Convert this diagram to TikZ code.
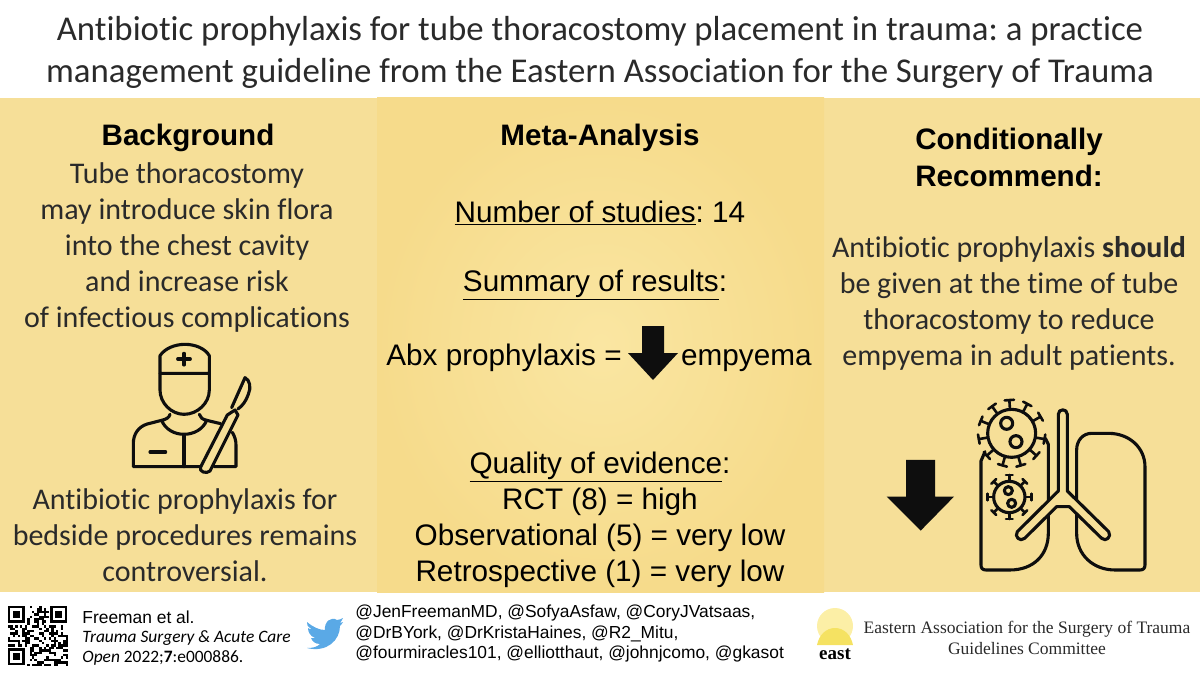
\documentclass[tikz,border=0pt]{standalone}
\usepackage{fontspec}
\setmainfont[Ligatures=NoCommon]{Carlito}
\setsansfont{Liberation Sans}
\newfontfamily\timesfont{Liberation Serif}
\usepackage{xcolor}
\usepackage{tikz}
\usetikzlibrary{positioning, arrows.meta}
\definecolor{panelyellow}{HTML}{F6DF98}
\definecolor{centeredge}{HTML}{F6DB8B}
\definecolor{centermid}{HTML}{FAE6A2}
\definecolor{inkblack}{HTML}{0E0E0E}
\definecolor{titlegray}{HTML}{2A2A2A}
\definecolor{birdblue}{HTML}{5AA9E6}
\definecolor{sunpale}{HTML}{FCEFA6}
\definecolor{sundark}{HTML}{F5E262}
\frenchspacing

\begin{document}
\begin{tikzpicture}[x=1pt, y=-1pt, thick,
    titletext/.style={inner sep=0pt, align=center, text=titlegray, font=\fontsize{34.8}{42}\selectfont},
    headtext/.style={inner sep=0pt, align=center, font=\sffamily\bfseries\fontsize{29.6}{37}\selectfont},
    bodytext/.style={inner sep=0pt, align=center, text=titlegray, font=\fontsize{30}{36}\selectfont},
    metatext/.style={inner sep=0pt, align=center, font=\sffamily\fontsize{29.7}{35.8}\selectfont},
    foottext/.style={inner sep=0pt, align=left, font=\sffamily\fontsize{17.4}{20.6}\selectfont},
    iconline/.style={draw=inkblack, line width=3.1pt, line cap=round, line join=round},
    downarrow/.style={fill=inkblack, draw=none},
    spike/.style={draw=inkblack, line width=2.6pt, line cap=round}]
    \useasboundingbox (0,0) rectangle (1200,674);

    % panels
    \fill[panelyellow] (0,98) rectangle (1200,592);
    \shade[inner color=centermid, outer color=centeredge] (377,98) rectangle (824,592);

    % title
    \node[titletext] (title) at (600,52) {Antibiotic prophylaxis for tube thoracostomy placement in trauma: a practice\\management guideline from the Eastern Association for the Surgery of Trauma};

    % left panel
    \node[headtext] (background) at (188,138) {Background};
    \node[bodytext] (flora) at (187,248) {Tube thoracostomy\\may introduce skin flora\\into the chest cavity\\and increase risk\\of infectious complications};
    \node[bodytext] (controversial) at (185,535) {Antibiotic prophylaxis for\\bedside procedures remains\\controversial.};

    % surgeon
    \begin{scope}[shift={(110,335)}, x=0.3333pt, y=-0.3333pt]
        \draw[iconline] (150,115) -- (150,62) .. controls (165,40) and (195,28) .. (225,28) .. controls (255,28) and (285,40) .. (298,62) -- (298,115) -- cycle;
        \draw[iconline] (203,72) -- (241,72) (222,55) -- (222,90);
        \draw[iconline] (150,115) -- (150,165) .. controls (150,205) and (185,238) .. (222,238) .. controls (262,238) and (298,205) .. (298,165) -- (298,115);
        \draw[iconline] (180,238) .. controls (178,248) and (168,253) .. (155,256) .. controls (165,282) and (192,298) .. (222,298) .. controls (252,298) and (280,282) .. (290,256) .. controls (278,253) and (270,248) .. (268,238);
        \draw[iconline] (155,256) -- (112,267) .. controls (85,275) and (70,298) .. (70,325) -- (70,395) -- (272,395);
        \draw[iconline] (222,298) -- (222,395) (120,351) -- (167,351);
        \draw[iconline] (290,256) -- (332,266) (367,292) .. controls (375,305) and (378,318) .. (378,330) -- (378,395) -- (312,395);
        \draw[iconline] (272,396) -- (352,240) -- (375,225) -- (384,240) -- (300,408) .. controls (290,418) and (265,410) .. (272,396);
        \draw[iconline] (365,218) -- (405,128) .. controls (420,135) and (424,158) .. (415,178) .. controls (408,198) and (398,212) .. (384,222);
    \end{scope}

    % centre panel
    \node[headtext] (meta) at (600,138) {Meta-Analysis};
    \node[metatext] (studies) at (600,213) {\underline{Number of studies}: 14};
    \node[metatext] (summary) at (595,285) {\underline{Summary of results}:};
    \node[metatext, anchor=base west] (abx) at (386,365) {Abx prophylaxis =};
    \node[metatext, anchor=base east] (empyema) at (812,365) {empyema};
    \fill[downarrow] (642,326) -- (664,326) -- (664,353) -- (678,353) -- (653,380) -- (628,353) -- (642,353) -- cycle;
    \node[metatext] (quality) at (600,520) {\underline{Quality of evidence}:\\RCT (8) = high\\Observational (5) = very low\\Retrospective (1) = very low};

    % right panel
    \node[headtext] (recommend) at (1009,157) {Conditionally\\Recommend:};
    \node[bodytext] (should) at (1009,303) {Antibiotic prophylaxis \textbf{should}\\be given at the time of tube\\thoracostomy to reduce\\empyema in adult patients.};

    % arrow and lungs
    \begin{scope}[shift={(870,385)}, x=0.3333pt, y=-0.3333pt]
        \fill[downarrow] (108,225) -- (195,225) -- (195,335) -- (252,335) -- (152,437) -- (50,335) -- (108,335) -- cycle;
        \draw[iconline] (345,200) -- (333,228) -- (333,540) .. controls (333,550) and (338,555) .. (348,555) -- (420,555) .. controls (490,555) and (535,510) .. (535,445) -- (535,178) -- (526,160);
        \draw[iconline] (620,395) -- (620,195) .. controls (620,165) and (640,145) .. (665,145) -- (715,145) .. controls (780,145) and (825,190) .. (825,245) -- (825,540) .. controls (825,550) and (820,555) .. (810,555) -- (735,555) .. controls (670,555) and (620,510) .. (620,445) -- (620,395);
        \draw[iconline, fill=panelyellow] (565,88) .. controls (565,70) and (592,70) .. (592,88) -- (592,318) -- (716,440) .. controls (726,455) and (708,472) .. (695,460) -- (598,365) -- (560,365) -- (464,460) .. controls (450,472) and (432,455) .. (442,440) -- (565,318) -- cycle;
        \draw[iconline] (425,145) circle[radius=72];
        \draw[iconline] (410,115) circle[radius=18] (438,170) circle[radius=18];
        \foreach \ang in {10,42,74,106,138,170,202,234,266,298,330} {
            \draw[spike] ({425+72*cos(\ang)},{145+72*sin(\ang)}) -- ({425+100*cos(\ang)},{145+100*sin(\ang)});
            \draw[spike] ({425+100*cos(\ang)-14*sin(\ang)},{145+100*sin(\ang)+14*cos(\ang)}) -- ({425+100*cos(\ang)+14*sin(\ang)},{145+100*sin(\ang)-14*cos(\ang)});
        }
        \draw[iconline] (418,336) circle[radius=47];
        \draw[iconline] (415,317) circle[radius=12] (425,355) circle[radius=12];
        \foreach \ang in {0,45,90,135,180,225,270,315} {
            \draw[spike] ({418+47*cos(\ang)},{336+47*sin(\ang)}) -- ({418+66*cos(\ang)},{336+66*sin(\ang)});
            \draw[spike] ({418+66*cos(\ang)-10*sin(\ang)},{336+66*sin(\ang)+10*cos(\ang)}) -- ({418+66*cos(\ang)+10*sin(\ang)},{336+66*sin(\ang)-10*cos(\ang)});
        }
    \end{scope}

    % qr code
    \pgfmathsetseed{4711}
    \foreach \i in {0,...,24} {
        \foreach \j in {0,...,24} {
            \pgfmathparse{rnd<0.5 ? 1 : 0}
            \ifnum\pgfmathresult=1
                \fill[black] ({8+2.4*\i},{606+2.4*\j}) rectangle ++(2.4,2.4);
            \fi
        }
    }
    \foreach \cx/\cy in {8/606, 50.2/606, 8/648.2} {
        \fill[white] (\cx-1,\cy-1) rectangle ++(19.8,19.8);
        \fill[black] (\cx,\cy) rectangle ++(16.8,16.8);
        \fill[white] (\cx+2.4,\cy+2.4) rectangle ++(12,12);
        \fill[black] (\cx+4.8,\cy+4.8) rectangle ++(7.2,7.2);
    }

    % citation
    \node[foottext, anchor=west] (citation) at (82,617) {Freeman et al.};
    \node[foottext, anchor=west, font=\fontsize{17.4}{21}\selectfont\itshape] (journal) at (82,638) {Trauma Surgery \& Acute Care};
    \node[foottext, anchor=west, font=\fontsize{17.4}{21}\selectfont] (volume) at (82,658) {\textit{Open} 2022;\textbf{7}:e000886.};

    % bird
    \fill[birdblue] (307,622) .. controls (313,627) and (319,630) .. (325,630) .. controls (324,622) and (331,616) .. (337,620) .. controls (339,620) and (341,619) .. (343,618) .. controls (342,620) and (341,622) .. (340,623) .. controls (341,623) and (342,622) .. (343,622) .. controls (342,624) and (341,625) .. (340,626) .. controls (340,640) and (327,653) .. (307,648) .. controls (313,648) and (317,647) .. (320,644) .. controls (315,644) and (312,641) .. (311,638) .. controls (312,638) and (313,638) .. (315,638) .. controls (310,636) and (308,632) .. (308,628) .. controls (309,629) and (310,629) .. (312,629) .. controls (308,627) and (306,625) .. (307,622) -- cycle;

    % handles
    \node[foottext, anchor=west] (handles) at (355,633.5) {@JenFreemanMD, @SofyaAsfaw, @CoryJVatsaas,\\@DrBYork, @DrKristaHaines, @R2\_Mitu,\\@fourmiracles101, @elliotthaut, @johnjcomo, @gkasot};

    % east logo
    \fill[sunpale] (835,626) circle[radius=18];
    \fill[sundark] (817,645) .. controls (819,635) and (826,628) .. (835,628) .. controls (844,628) and (851,635) .. (853,645) -- cycle;
    \node[inner sep=0pt, font=\timesfont\bfseries\fontsize{19}{19}\selectfont] (east) at (835,654) {east};
    \node[inner sep=0pt, align=center, text=titlegray, font=\timesfont\fontsize{17.5}{21}\selectfont] (committee) at (1027,638) {Eastern Association for the Surgery of Trauma\\Guidelines Committee};
\end{tikzpicture}
\end{document}
